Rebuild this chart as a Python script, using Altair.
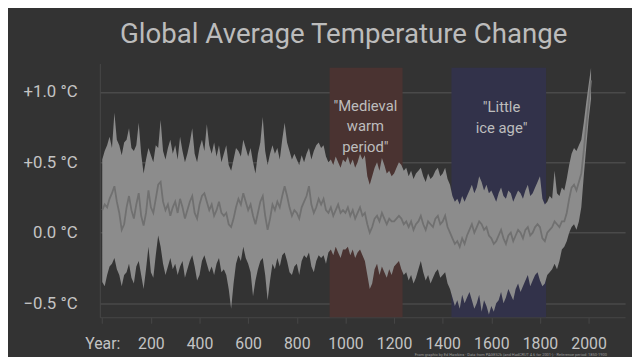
import altair as alt
import pandas as pd

# ---------------- data ----------------
years = list(range(0, 2011, 10))

upper = [
    0.52, 0.58, 0.62, 0.68, 0.60, 0.85, 0.66, 0.62, 0.55, 0.64,
    0.66, 0.74, 0.60, 0.58, 0.62, 0.78, 0.56, 0.42, 0.52, 0.60,
    0.55, 0.50, 0.62, 0.60, 0.80, 0.58, 0.52, 0.60, 0.66, 0.56,
    0.62, 0.52, 0.68, 0.58, 0.50, 0.56, 0.64, 0.74, 0.56, 0.50,
    0.60, 0.66, 0.58, 0.77, 0.62, 0.56, 0.64, 0.54, 0.62, 0.50,
    0.56, 0.62, 0.48, 0.44, 0.52, 0.60, 0.58, 0.54, 0.66, 0.60,
    0.54, 0.60, 0.50, 0.42, 0.56, 0.64, 0.82, 0.58, 0.48, 0.56,
    0.62, 0.56, 0.60, 0.52, 0.66, 0.78, 0.64, 0.58, 0.52, 0.56,
    0.52, 0.48, 0.55, 0.50, 0.56, 0.60, 0.52, 0.58, 0.62, 0.64,
    0.60, 0.62, 0.54, 0.50, 0.52, 0.48, 0.54, 0.50, 0.46, 0.52,
    0.50, 0.54, 0.48, 0.52, 0.46, 0.50, 0.56, 0.52, 0.55, 0.40,
    0.34, 0.40, 0.46, 0.50, 0.44, 0.53, 0.48, 0.42, 0.44, 0.40,
    0.42, 0.46, 0.50, 0.48, 0.44, 0.46, 0.40, 0.44, 0.38, 0.42,
    0.44, 0.46, 0.40, 0.36, 0.42, 0.38, 0.40, 0.44, 0.46, 0.40,
    0.42, 0.46, 0.38, 0.34, 0.26, 0.22, 0.24, 0.20, 0.26, 0.22,
    0.26, 0.30, 0.34, 0.28, 0.32, 0.40, 0.36, 0.30, 0.34, 0.28,
    0.30, 0.26, 0.22, 0.28, 0.32, 0.26, 0.24, 0.30, 0.28, 0.22,
    0.26, 0.30, 0.28, 0.24, 0.30, 0.34, 0.26, 0.28, 0.32, 0.36,
    0.40, 0.24, 0.20, 0.22, 0.26, 0.24, 0.44, 0.28, 0.26, 0.32,
    0.30, 0.38, 0.48, 0.56, 0.60, 0.58, 0.62, 0.66, 0.78, 0.92,
    1.05, 1.17,
]

median = [
    0.16, 0.20, 0.18, 0.24, 0.28, 0.33, 0.22, 0.14, 0.02, 0.06,
    0.18, 0.26, 0.16, 0.10, 0.20, 0.28, 0.12, 0.05, 0.14, 0.30,
    0.18, 0.14, 0.24, 0.34, 0.36, 0.22, 0.16, 0.20, 0.12, 0.18,
    0.22, 0.14, 0.24, 0.18, 0.10, 0.16, 0.22, 0.26, 0.14, 0.10,
    0.20, 0.26, 0.28, 0.22, 0.16, 0.20, 0.12, 0.16, 0.22, 0.14,
    0.12, 0.14, 0.06, 0.04, 0.10, 0.18, 0.24, 0.20, 0.28, 0.22,
    0.16, 0.20, 0.12, 0.06, 0.14, 0.22, 0.26, 0.12, 0.02, 0.10,
    0.20, 0.16, 0.22, 0.18, 0.26, 0.33, 0.26, 0.18, 0.12, 0.16,
    0.14, 0.10, 0.18, 0.22, 0.26, 0.33, 0.20, 0.14, 0.18, 0.24,
    0.20, 0.24, 0.16, 0.14, 0.18, 0.12, 0.16, 0.20, 0.14, 0.16,
    0.14, 0.18, 0.12, 0.16, 0.10, 0.14, 0.18, 0.12, 0.14, 0.06,
    0.00, 0.04, 0.10, 0.12, 0.08, 0.14, 0.10, 0.06, 0.10, 0.08,
    0.08, 0.10, 0.12, 0.10, 0.06, 0.08, 0.04, 0.08, 0.02, 0.06,
    0.08, 0.12, 0.06, 0.02, 0.08, 0.06, 0.04, 0.10, 0.12, 0.06,
    0.08, 0.12, 0.04, 0.00, -0.04, -0.08, -0.06, -0.10, -0.04, -0.08,
    -0.02, 0.02, 0.06, 0.00, 0.04, 0.08, 0.06, 0.02, 0.04, -0.02,
    -0.04, -0.08, -0.06, -0.02, 0.02, -0.04, -0.08, -0.02, 0.00, -0.06,
    -0.02, 0.02, 0.00, -0.04, 0.02, 0.04, -0.02, 0.00, 0.04, 0.06,
    0.04, -0.04, -0.06, 0.00, 0.02, 0.04, 0.08, 0.06, 0.04, 0.08,
    0.08, 0.14, 0.24, 0.32, 0.34, 0.30, 0.36, 0.42, 0.58, 0.76,
    0.92, 1.08,
]

lower = [
    -0.35, -0.38, -0.30, -0.24, -0.22, -0.18, -0.26, -0.30, -0.38, -0.30,
    -0.28, -0.22, -0.32, -0.36, -0.24, -0.20, -0.30, -0.40, -0.26, -0.10,
    -0.28, -0.32, -0.16, -0.02, -0.10, -0.22, -0.30, -0.24, -0.18, -0.26,
    -0.22, -0.30, -0.24, -0.20, -0.32, -0.26, -0.20, -0.16, -0.24, -0.34,
    -0.30, -0.20, -0.16, -0.22, -0.28, -0.24, -0.30, -0.22, -0.18, -0.28,
    -0.26, -0.30, -0.40, -0.54, -0.36, -0.22, -0.16, -0.20, -0.10, -0.18,
    -0.22, -0.28, -0.45, -0.34, -0.26, -0.20, -0.18, -0.30, -0.48, -0.34,
    -0.22, -0.26, -0.18, -0.24, -0.16, -0.14, -0.20, -0.28, -0.30, -0.24,
    -0.22, -0.30, -0.20, -0.16, -0.18, -0.14, -0.24, -0.28, -0.20, -0.16,
    -0.18, -0.16, -0.22, -0.14, -0.12, -0.16, -0.10, -0.14, -0.18, -0.12,
    -0.12, -0.10, -0.16, -0.12, -0.18, -0.14, -0.12, -0.16, -0.20, -0.30,
    -0.40, -0.36, -0.26, -0.22, -0.30, -0.24, -0.28, -0.32, -0.26, -0.30,
    -0.24, -0.22, -0.20, -0.26, -0.30, -0.28, -0.34, -0.30, -0.36, -0.32,
    -0.26, -0.20, -0.28, -0.34, -0.30, -0.36, -0.32, -0.28, -0.26, -0.32,
    -0.30, -0.28, -0.36, -0.40, -0.46, -0.52, -0.48, -0.54, -0.44, -0.50,
    -0.46, -0.42, -0.48, -0.54, -0.50, -0.44, -0.56, -0.48, -0.52, -0.58,
    -0.52, -0.56, -0.50, -0.48, -0.42, -0.50, -0.46, -0.40, -0.44, -0.48,
    -0.40, -0.36, -0.42, -0.38, -0.34, -0.30, -0.38, -0.34, -0.30, -0.28,
    -0.34, -0.38, -0.36, -0.30, -0.28, -0.26, -0.22, -0.26, -0.20, -0.12,
    -0.10, -0.06, 0.00, 0.04, 0.06, 0.02, 0.08, 0.18, 0.40, 0.60,
    0.80, 0.95,
]

period_names = ['"Medieval\nwarm\nperiod"', '"Little\nice age"']
period_start = [935, 1436]
period_end = [1235, 1825]
period_top = [1.17, 1.17]
period_bottom = [-0.6, -0.6]
period_colors = ["#4a3331", "#32324a"]
label_year = [1082, 1642]
label_value = [0.90, 0.89]

x_ticks = [0, 200, 400, 600, 800, 1000, 1200, 1400, 1600, 1800, 2000]
y_ticks = [-0.5, 0.0, 0.5, 1.0]

title_text = "Global Average Temperature Change"
footer_text = ("From graphic by Ed Hawkins · Data from PAGES2k (and HadCRUT 4.6 for 2001-) · "
               "Reference period: 1850-1900")
footer_year = [1680]
footer_value = [-0.865]

# ---------------- tables ----------------
series = pd.DataFrame({"year": years, "upper": upper, "lower": lower, "median": median})
periods = pd.DataFrame({
    "name": period_names, "start": period_start, "end": period_end,
    "top": period_top, "bottom": period_bottom, "color": period_colors,
    "lx": label_year, "ly": label_value,
})
footer = pd.DataFrame({"t": [footer_text], "x": footer_year, "y": footer_value})

FONT = "Roboto"
xscale = alt.Scale(domain=[-10, 2150], nice=False, zero=False)
yscale = alt.Scale(domain=[-0.6, 1.2], nice=False, zero=False)

x_axis = alt.Axis(
    values=x_ticks, title=None, grid=False,
    labelExpr="datum.value == 0 ? 'Year:' : datum.label",
    format="d", labelFontSize=16, labelColor="#c4c4c4", labelFont=FONT,
    domainColor="#474747", tickColor="#474747", tickSize=6, labelPadding=13,
)
y_axis = alt.Axis(
    values=y_ticks, title=None, grid=True, gridColor="#4a4a4a", gridWidth=1.5,
    labelExpr="(datum.value > 0 ? '+' : '') + format(datum.value, '.1f') + ' °C'",
    labelFontSize=17, labelColor="#c4c4c4", labelFont=FONT,
    domainColor="#474747", ticks=False, labelPadding=23,
)

rects = alt.Chart(periods).mark_rect().encode(
    x=alt.X("start:Q", scale=xscale, axis=x_axis),
    x2="end:Q",
    y=alt.Y("top:Q", scale=yscale, axis=y_axis),
    y2="bottom:Q",
    color=alt.Color("color:N", scale=None),
)

band = alt.Chart(series).mark_area(color="#8c8c8c", opacity=1).encode(
    x=alt.X("year:Q", scale=xscale),
    y=alt.Y("upper:Q", scale=yscale),
    y2="lower:Q",
)

line = alt.Chart(series).mark_line(color="#707070", strokeWidth=1.8).encode(
    x=alt.X("year:Q", scale=xscale),
    y=alt.Y("median:Q", scale=yscale),
)

labels = alt.Chart(periods).mark_text(
    font=FONT, fontSize=15, color="#bdbdbd", lineBreak="\n", lineHeight=21,
    align="center", baseline="middle",
).encode(
    x=alt.X("lx:Q", scale=xscale),
    y=alt.Y("ly:Q", scale=yscale),
    text="name:N",
)

foot = alt.Chart(footer).mark_text(
    font=FONT, fontSize=4, color="#9a9a9a", align="center", baseline="middle",
).encode(
    x=alt.X("x:Q", scale=xscale),
    y=alt.Y("y:Q", scale=yscale),
    text="t:N",
)

chart = alt.layer(rects, band, line, labels, foot).properties(
    width=532, height=257,
    title=alt.Title(
        title_text, font=FONT, fontSize=28, fontWeight="normal", color="#bcbcbc",
        anchor="middle", dx=-19, offset=-7, baseline="alphabetic",
    ),
    background="#333333",
    padding={"left": 93, "top": 54, "right": 7, "bottom": 38},
    autosize=alt.AutoSizeParams(type="none"),
).configure_view(stroke=None)

chart.save("out.html", embed_options={"renderer": "svg", "actions": False})
